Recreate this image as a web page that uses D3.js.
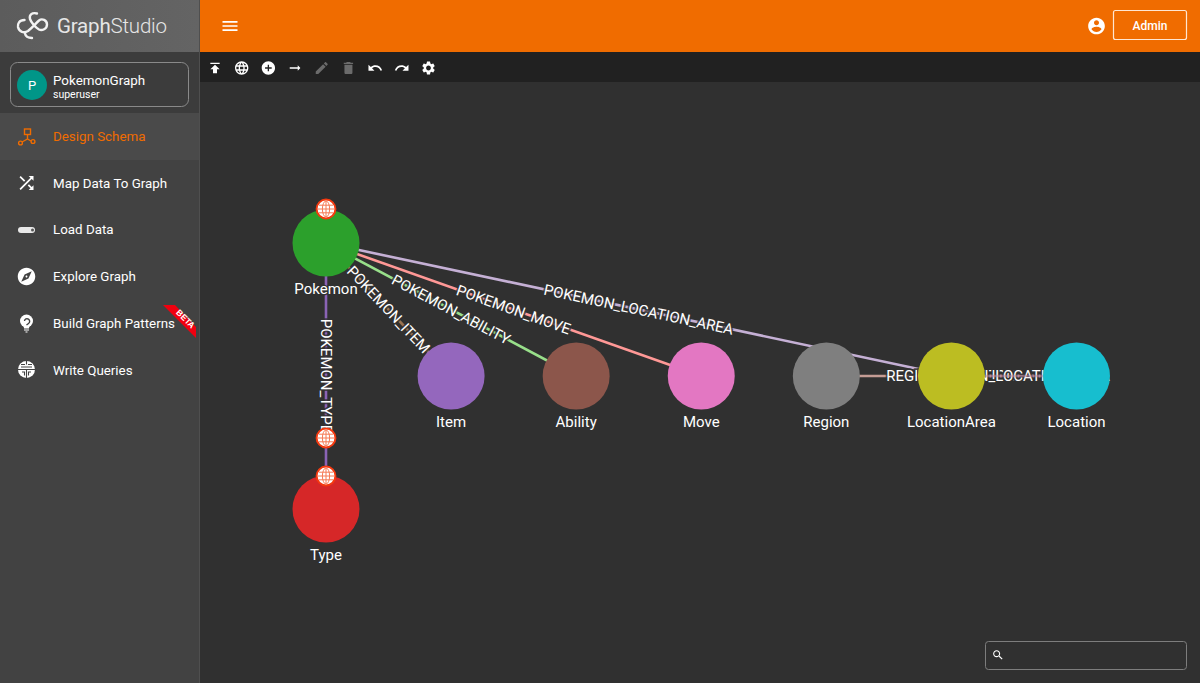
<!DOCTYPE html>
<html>
<head>
<meta charset="utf-8">
<script src="https://cdnjs.cloudflare.com/ajax/libs/d3/7.8.5/d3.min.js"></script>
<style>
html, body { margin: 0; padding: 0; background: #303030; overflow: hidden; }
svg { display: block; }
text { font-family: Roboto, sans-serif; }
</style>
</head>
<body>
<svg id="app" width="1200" height="683"></svg>
<script>
// schema graph: vertices sit on a col/row grid
var nodeNames = ["Pokemon", "Type", "Item", "Ability", "Move", "Region", "LocationArea", "Location"];
var nodeCols = [0, 0, 1, 2, 3, 4, 5, 6];
var nodeRows = [0, 2, 1, 1, 1, 1, 1, 1];

var edgeNames = ["POKEMON_TYPE", "POKEMON_ITEM", "POKEMON_ABILITY", "POKEMON_MOVE", "POKEMON_LOCATION_AREA", "REGION_LOCATION", "LOCATION_LOCATION_AREA"];
var edgeFrom = ["Pokemon", "Pokemon", "Pokemon", "Pokemon", "Pokemon", "Region", "LocationArea"];
var edgeTo = ["Type", "Item", "Ability", "Move", "LocationArea", "Location", "Location"];

var menuItems = ["Design Schema", "Map Data To Graph", "Load Data", "Explore Graph", "Build Graph Patterns", "Write Queries"];

var nodeColor = d3.scaleOrdinal().domain(nodeNames)
    .range(["#2ca02c", "#d62728", "#9467bd", "#8c564b", "#e377c2", "#7f7f7f", "#bcbd22", "#17becf"]);
var edgeColor = d3.scaleOrdinal().domain(edgeNames)
    .range(["#8a63b5", "#9a7350", "#98df8a", "#ff9896", "#c5b0d5", "#c49c94", "#b98aa0"]);

var x = d3.scaleLinear().domain([0, 6]).range([326, 1076.5]);
var y = d3.scaleLinear().domain([0, 2]).range([243, 509]);
var menuY = d3.scalePoint().domain(menuItems).range([136.5, 370]);

var icons = {
    publish: "M5 4v2h14V4H5zm0 10h4v6h6v-6h4l-7-7-7 7z",
    language: "M11.99 2C6.47 2 2 6.48 2 12s4.47 10 9.99 10C17.52 22 22 17.52 22 12S17.52 2 11.99 2zm6.93 6h-2.95c-.32-1.25-.78-2.45-1.38-3.56 1.84.63 3.37 1.91 4.33 3.56zM12 4.04c.83 1.2 1.48 2.53 1.91 3.96h-3.82c.43-1.43 1.08-2.76 1.91-3.96zM4.26 14C4.1 13.36 4 12.69 4 12s.1-1.36.26-2h3.38c-.08.66-.14 1.32-.14 2 0 .68.06 1.34.14 2H4.26zm.82 2h2.95c.32 1.25.78 2.45 1.38 3.56-1.84-.63-3.37-1.9-4.33-3.56zm2.95-8H5.08c.96-1.66 2.49-2.93 4.33-3.56C8.81 5.55 8.35 6.75 8.03 8zM12 19.96c-.83-1.2-1.48-2.53-1.91-3.96h3.82c-.43 1.43-1.08 2.76-1.91 3.96zM14.34 14H9.66c-.09-.66-.16-1.32-.16-2 0-.68.07-1.35.16-2h4.68c.09.65.16 1.32.16 2 0 .68-.07 1.34-.16 2zm.25 5.56c.6-1.11 1.06-2.31 1.38-3.56h2.95c-.96 1.65-2.49 2.93-4.33 3.56zM16.36 14c.08-.66.14-1.32.14-2 0-.68-.06-1.34-.14-2h3.38c.16.64.26 1.31.26 2s-.1 1.36-.26 2h-3.38z",
    add: "M12 2C6.48 2 2 6.48 2 12s4.48 10 10 10 10-4.48 10-10S17.52 2 12 2zm5 11h-4v4h-2v-4H7v-2h4V7h2v4h4v2z",
    arrow: "M16.01 11H4v2h12.01v3L20 12l-3.99-4z",
    edit: "M3 17.25V21h3.75L17.81 9.94l-3.75-3.75L3 17.25zM20.71 7.04c.39-.39.39-1.02 0-1.41l-2.34-2.34c-.39-.39-1.02-.39-1.41 0l-1.83 1.83 3.75 3.75 1.83-1.83z",
    del: "M6 19c0 1.1.9 2 2 2h8c1.1 0 2-.9 2-2V7H6v12zM19 4h-3.5l-1-1h-5l-1 1H5v2h14V4z",
    undo: "M12.5 8c-2.65 0-5.05.99-6.9 2.6L2 7v9h9l-3.62-3.62c1.39-1.16 3.16-1.88 5.12-1.88 3.54 0 6.55 2.31 7.6 5.5l2.37-.78C21.08 11.03 17.15 8 12.5 8z",
    redo: "M18.4 10.6C16.55 8.99 14.15 8 11.5 8c-4.65 0-8.58 3.03-9.96 7.22L3.9 16c1.05-3.19 4.05-5.5 7.6-5.5 1.95 0 3.73.72 5.12 1.88L13 16h9V7l-3.6 3.6z",
    settings: "M19.14 12.94c.04-.3.06-.61.06-.94 0-.32-.02-.64-.07-.94l2.03-1.58c.18-.14.23-.41.12-.61l-1.92-3.32c-.12-.22-.37-.29-.59-.22l-2.39.96c-.5-.38-1.03-.7-1.62-.94l-.36-2.54c-.04-.24-.24-.41-.48-.41h-3.84c-.24 0-.43.17-.47.41l-.36 2.54c-.59.24-1.13.57-1.62.94l-2.39-.96c-.22-.08-.47 0-.59.22L2.74 8.87c-.12.21-.08.47.12.61l2.03 1.58c-.05.3-.09.63-.09.94s.02.64.07.94l-2.03 1.58c-.18.14-.23.41-.12.61l1.92 3.32c.12.22.37.29.59.22l2.39-.96c.5.38 1.03.7 1.62.94l.36 2.54c.05.24.24.41.48.41h3.84c.24 0 .44-.17.47-.41l.36-2.54c.59-.24 1.13-.56 1.62-.94l2.39.96c.22.08.47 0 .59-.22l1.92-3.32c.12-.22.07-.47-.12-.61l-2.01-1.58zM12 15.6c-1.98 0-3.6-1.62-3.6-3.6s1.62-3.6 3.6-3.6 3.6 1.62 3.6 3.6-1.62 3.6-3.6 3.6z",
    menu: "M3 18h18v-2H3v2zm0-5h18v-2H3v2zm0-7v2h18V6H3z",
    account: "M12 2C6.48 2 2 6.48 2 12s4.48 10 10 10 10-4.48 10-10S17.52 2 12 2zm0 3c1.66 0 3 1.34 3 3s-1.34 3-3 3-3-1.34-3-3 1.34-3 3-3zm0 14.2c-2.5 0-4.71-1.28-6-3.22.03-1.99 4-3.08 6-3.08 1.99 0 5.97 1.09 6 3.08-1.29 1.94-3.5 3.22-6 3.22z",
    search: "M15.5 14h-.79l-.28-.27C15.41 12.59 16 11.11 16 9.5 16 5.91 13.09 3 9.5 3S3 5.91 3 9.5 5.91 16 9.5 16c1.61 0 3.09-.59 4.23-1.57l.27.28v.79l5 4.99L20.49 19l-4.99-5zm-6 0C7.01 14 5 11.99 5 9.5S7.01 5 9.5 5 14 7.01 14 9.5 11.99 14 9.5 14z",
    shuffle: "M10.59 9.17L5.41 4 4 5.41l5.17 5.17 1.42-1.41zM14.5 4l2.04 2.04L4 18.59 5.41 20 17.96 7.46 20 9.5V4h-5.5zm.33 9.41l-1.41 1.41 3.13 3.13L14.5 20H20v-5.5l-2.04 2.04-3.13-3.13z",
    explore: "M12 10.9c-.61 0-1.1.49-1.1 1.1s.49 1.1 1.1 1.1c.61 0 1.1-.49 1.1-1.1s-.49-1.1-1.1-1.1zM12 2C6.48 2 2 6.48 2 12s4.48 10 10 10 10-4.48 10-10S17.52 2 12 2zm2.19 12.19L6 18l3.81-8.19L18 6l-3.81 8.19z"
};

var svg = d3.select("#app");

function icon(parent, name, cx, cy, size, color, opacity) {
    parent.append("path")
        .attr("d", icons[name])
        .attr("transform", "translate(" + (cx - size / 2) + "," + (cy - size / 2) + ") scale(" + size / 24 + ")")
        .attr("fill", color)
        .attr("opacity", opacity == null ? 1 : opacity);
}

// backgrounds
var defs = svg.append("defs");
var grad = defs.append("linearGradient").attr("id", "logoBg");
grad.append("stop").attr("offset", "0").attr("stop-color", "#5c5c5c");
grad.append("stop").attr("offset", "1").attr("stop-color", "#646464");

svg.append("rect").attr("width", 1200).attr("height", 683).attr("fill", "#303030");
svg.append("rect").attr("x", 200).attr("width", 1000).attr("height", 52).attr("fill", "#f06c00");
svg.append("rect").attr("x", 200).attr("y", 52).attr("width", 1000).attr("height", 30).attr("fill", "#212121");

var side = svg.append("g");
side.append("rect").attr("width", 199).attr("height", 683).attr("fill", "#424242");
side.append("rect").attr("x", 199).attr("width", 1).attr("height", 683).attr("fill", "#4f4f4f");
side.append("rect").attr("width", 199).attr("height", 52).attr("fill", "url(#logoBg)");
side.append("rect").attr("y", 52).attr("width", 199).attr("height", 61).attr("fill", "#3c3c3c");
side.append("rect").attr("y", 113).attr("width", 199).attr("height", 47).attr("fill", "#4a4a4a");

// logo
var logo = side.append("g").attr("fill", "none").attr("stroke", "#f2f2f2").attr("stroke-width", 2.4).attr("stroke-linecap", "round");
logo.append("path").attr("d", "M24.5 20C19 20 17.5 24 18 27C19 32 24 33.5 28 31C33 27 36 23 39 20.5C42 18 47 20 47 24.5C47 29 42 31 39 29.5C35 27 31 22 30 19C29 15 32 12 37 13.5");
logo.append("path").attr("d", "M25 33.5C25.5 36 28 38 32 38");
side.append("text").attr("x", 57).attr("y", 33).attr("font-size", 20.5).attr("fill", "#e6e6e6").attr("textLength", 110)
    .html('Graph<tspan font-weight="300">Studio</tspan>');

// graph card
side.append("rect").attr("x", 10.5).attr("y", 62.5).attr("width", 178).attr("height", 44).attr("rx", 7)
    .attr("fill", "none").attr("stroke", "#8a8a8a").attr("stroke-width", 1);
side.append("circle").attr("cx", 32).attr("cy", 85).attr("r", 15).attr("fill", "#009688");
side.append("text").attr("x", 32).attr("y", 90).attr("text-anchor", "middle").attr("font-size", 13).attr("fill", "#fff").text("P");
side.append("text").attr("x", 53).attr("y", 85).attr("font-size", 13.4).attr("fill", "#fff").text("PokemonGraph");
side.append("text").attr("x", 53).attr("y", 98).attr("font-size", 10.5).attr("fill", "#fff").text("superuser");

// menu
side.selectAll("text.menu").data(menuItems).enter().append("text")
    .attr("class", "menu")
    .attr("x", 53)
    .attr("y", function (d) { return menuY(d) + 4.5; })
    .attr("font-size", 13.35)
    .attr("fill", function (d, i) { return i == 0 ? "#f06c00" : "#fff"; })
    .text(function (d) { return d; });

var schemaIcon = side.append("g").attr("fill", "none").attr("stroke", "#f06c00").attr("stroke-width", 1.4);
schemaIcon.append("rect").attr("x", 24.5).attr("y", 129).attr("width", 6).attr("height", 5.5);
schemaIcon.append("circle").attr("cx", 20.5).attr("cy", 143).attr("r", 1.9);
schemaIcon.append("circle").attr("cx", 33).attr("cy", 141.5).attr("r", 1.9);
schemaIcon.append("path").attr("d", "M27.5 134.5V139M22 142L27.5 139L31 141");

icon(side, "shuffle", 26.5, 183, 21, "#fff");
side.append("rect").attr("x", 18).attr("y", 227).attr("width", 17).attr("height", 6).attr("rx", 3).attr("fill", "#e8e8e8");
side.append("rect").attr("x", 31).attr("y", 228.5).attr("width", 3).attr("height", 3).attr("rx", 1.5).attr("fill", "#555");
icon(side, "explore", 26.5, 276.5, 21, "#fff");

var bulb = side.append("g");
bulb.append("circle").attr("cx", 26.5).attr("cy", 321).attr("r", 6.5).attr("fill", "#fff");
bulb.append("path").attr("d", "M23.5 325H29.5L29 328.5H24ZM24 329.5H29V330.5H24ZM25.5 331.5H27.5V332.5H25.5Z").attr("fill", "#fff");
bulb.append("path").attr("d", "M24.5 321A2.6 2.6 0 1 1 28.5 323.5L26.5 325").attr("fill", "none").attr("stroke", "#424242").attr("stroke-width", 1.4);

var query = side.append("g");
query.append("circle").attr("cx", 26.5).attr("cy", 369.5).attr("r", 8.5).attr("fill", "#fff");
query.append("path").attr("fill", "none").attr("stroke", "#424242").attr("stroke-width", 1.1)
    .attr("d", "M18 369.5H35M26.5 369.5V378M26.5 361V364.5M21 364.5H25M28 364.5H32M21 367H32M22 372H24.5V375.5M31 372H28.5V375.5");

// beta ribbon
side.append("path").attr("d", "M163 305H175L196 327V338Z").attr("fill", "#f0000f");
side.append("text").attr("transform", "translate(183.5,321) rotate(45)").attr("text-anchor", "middle")
    .style("font-family", "Liberation Sans")
    .attr("font-size", 8.5).attr("font-weight", 700).attr("fill", "#fff").text("BETA");

// top bar
icon(svg, "menu", 230, 26, 20, "#fff");
icon(svg, "account", 1096.5, 26, 20, "#fff");
svg.append("rect").attr("x", 1113.5).attr("y", 10.5).attr("width", 73).attr("height", 29).attr("rx", 2)
    .attr("fill", "none").attr("stroke", "#ffe6d2").attr("stroke-width", 1.2);
svg.append("text").attr("x", 1150).attr("y", 29.5).attr("text-anchor", "middle").attr("font-size", 12)
    .attr("font-weight", 500).attr("fill", "#fff").text("Admin");

// toolbar
var tools = ["publish", "language", "add", "arrow", "edit", "del", "undo", "redo", "settings"];
var toolX = d3.scalePoint().domain(tools).range([215, 428.5]);
tools.forEach(function (t) {
    var off = t == "edit" || t == "del";
    icon(svg, t, toolX(t), 68, 16, off ? "#6b6b6b" : "#fff");
});

// search box
svg.append("rect").attr("x", 985.5).attr("y", 641.5).attr("width", 201).attr("height", 28).attr("rx", 3)
    .attr("fill", "none").attr("stroke", "#7d7d7d");
icon(svg, "search", 998, 655, 13, "#fff");

// edges
var nodes = nodeNames.map(function (n, i) {
    return { name: n, x: x(nodeCols[i]), y: y(nodeRows[i]) };
});
var nodeBy = {};
nodes.forEach(function (n) { nodeBy[n.name] = n; });
var edges = edgeNames.map(function (n, i) {
    return { name: n, a: nodeBy[edgeFrom[i]], b: nodeBy[edgeTo[i]] };
});

function drawEdges(parent, list, opacity) {
    parent.append("g").selectAll("line").data(list).enter().append("line")
        .attr("x1", function (d) { return d.a.x; })
        .attr("y1", function (d) { return d.a.y; })
        .attr("x2", function (d) { return d.b.x; })
        .attr("y2", function (d) { return d.b.y; })
        .attr("stroke", function (d) { return edgeColor(d.name); })
        .attr("stroke-width", 2.6)
        .attr("opacity", opacity);
}
drawEdges(svg, edges, 1);

svg.append("g").selectAll("text").data(edges).enter().append("text")
    .attr("transform", function (d) {
        var mx = (d.a.x + d.b.x) / 2, my = (d.a.y + d.b.y) / 2;
        var ang = Math.atan2(d.b.y - d.a.y, d.b.x - d.a.x) * 180 / Math.PI;
        return "translate(" + mx + "," + my + ") rotate(" + ang + ")";
    })
    .attr("text-anchor", "middle")
    .attr("dy", "0.35em")
    .attr("font-size", 15)
    .attr("fill", "#fff")
    .attr("stroke", "#303030")
    .attr("stroke-width", 3.5)
    .attr("stroke-opacity", function (d, i) { return i == edges.length - 1 ? 1 : 0.8; })
    .attr("paint-order", "stroke")
    .text(function (d) { return d.name; });

// the last edge shows through its label
drawEdges(svg, edges.slice(-1), 0.55);

// vertices
var nodeG = svg.append("g").selectAll("g").data(nodes).enter().append("g")
    .attr("transform", function (d) { return "translate(" + d.x + "," + d.y + ")"; });
nodeG.append("circle").attr("r", 33.5).attr("fill", function (d) { return nodeColor(d.name); });
nodeG.append("text")
    .attr("y", 51)
    .attr("text-anchor", "middle")
    .attr("font-size", 15)
    .attr("fill", "#fff")
    .attr("stroke", "#303030")
    .attr("stroke-width", 2.5)
    .attr("paint-order", "stroke")
    .text(function (d) { return d.name; });

// globe badges for global types
function badge(cx, cy) {
    var g = svg.append("g").attr("transform", "translate(" + cx + "," + cy + ")");
    g.append("circle").attr("r", 9.4).attr("fill", "#fff").attr("stroke", "#f4390f").attr("stroke-width", 2);
    var l = g.append("g").attr("fill", "none").attr("stroke", "#f57a55").attr("stroke-width", 1);
    l.append("ellipse").attr("rx", 3.6).attr("ry", 8);
    l.append("path").attr("d", "M0 -8V8M-8 0H8M-7 -3.8H7M-7 3.8H7");
}
badge(x(0), y(0) - 34);
badge(x(0), 438);
badge(x(0), y(2) - 33);
</script>
</body>
</html>
